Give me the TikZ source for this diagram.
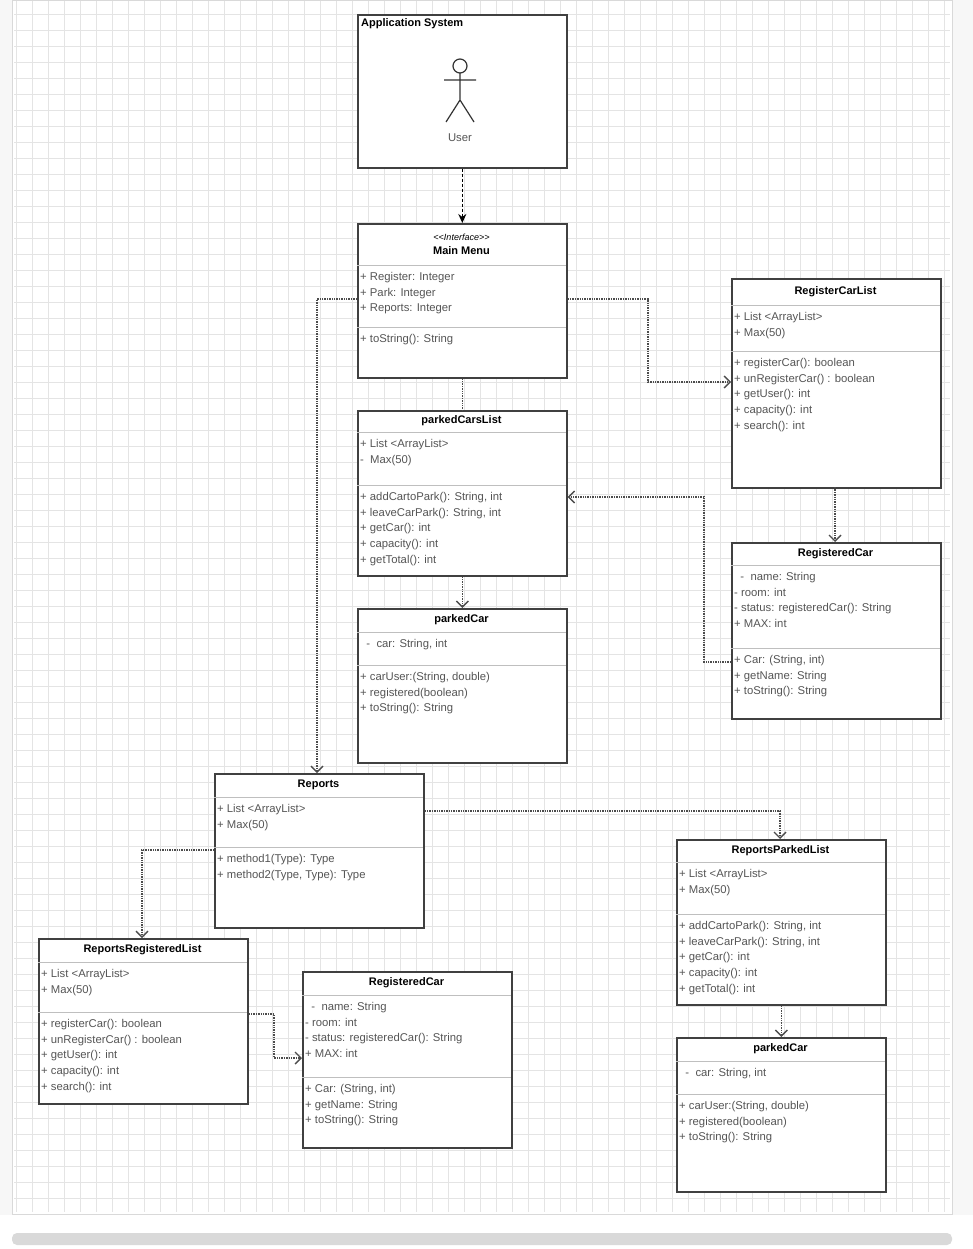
\documentclass[tikz,border=0pt]{standalone}
\usepackage{fontspec}
\setmainfont{Liberation Sans}
\definecolor{mem}{HTML}{555555}
\definecolor{gridc}{HTML}{E4E4E4}
\usetikzlibrary{arrows.meta}
\tikzset{
 cls/.style={draw=black!75,line width=1.6pt,fill=white,rectangle,anchor=north west,inner sep=0},
 mems/.style={anchor=north west,align=left,inner sep=0,text=mem,font=\fontsize{11.3}{15.7}\selectfont},
 ttl/.style={font=\bfseries\fontsize{11}{14}\selectfont,inner sep=0,align=center},
 dep/.style={densely dotted,line width=1.4pt,draw=black!70,-{Straight Barb[length=6pt,width=12pt]}},
 depn/.style={densely dotted,line width=1.4pt,draw=black!70},
}
% name x1 y1 x2 y2 div1 div2 title attrs
\newcommand\umlcls[9]{%
 \node[cls,minimum width={#4-#2},minimum height={#5-#3}] (#1) at (#2,#3) {};
 \draw[black!25,line width=1pt] (#2,#6) -- (#4,#6);
 \draw[black!25,line width=1pt] (#2,#7) -- (#4,#7);
 \node[ttl] (#1-t) at ({(#2+#4)/2},{(#3+#6)/2}) {#8};
 \node[mems] (#1-a) at (#2+3,#6+7) {#9};
}
\newcommand\umlm[4]{\node[mems] (#1) at (#2+3,#3+7) {#4};}
\begin{document}
\begin{tikzpicture}[x=1pt,y=-1pt]
\useasboundingbox (0,0) rectangle (973,1249);
\fill[white] (0,0) rectangle (973,1249);
\fill[black!3] (0,0) rectangle (12,1215);
\fill[black!3] (952,0) rectangle (973,1215);
\foreach \x in {16,32,...,944} \draw[gridc,line width=0.8pt] (\x,0) -- (\x,1212);
\foreach \y in {14,30,...,1212} \draw[gridc,line width=0.8pt] (14,\y) -- (950,\y);
\draw[black!15] (12,0) rectangle (952,1214);
\fill[black!15,rounded corners=5pt] (12,1233) rectangle (952,1245);
% Application system
\node[cls,minimum width=209,minimum height=153] (app) at (357,14) {};
\node[ttl,anchor=north west] (appt) at (361,18) {Application System};
\draw[black!80,line width=1.2pt] (460,66) circle (7);
\draw[black!80,line width=1.2pt] (460,73) -- (460,100) (444,80) -- (476,80) (460,100) -- (446,122) (460,100) -- (474,122);
\node[mems,anchor=center] (user) at (460,138) {User};
% classes
\umlcls{mm}{357}{223}{566}{377}{265}{327}{{\itshape\mdseries\fontsize{9}{10}\selectfont <{}<Interface>{}>}\\Main Menu}{+ Register: Integer\\+ Park: Integer\\+ Reports: Integer}
\umlm{mmm}{357}{327}{+ toString(): String}
\umlcls{rcl}{731}{278}{940}{487}{305}{351}{RegisterCarList}{+ List <ArrayList>\\+ Max(50)}
\umlm{rclm}{731}{351}{+ registerCar(): boolean\\+ unRegisterCar() : boolean\\+ getUser(): int\\+ capacity(): int\\+ search(): int}
\umlcls{pcl}{357}{410}{566}{575}{432}{485}{parkedCarsList}{+ List <ArrayList>\\- \ Max(50)}
\umlm{pclm}{357}{485}{+ addCartoPark(): String, int\\+ leaveCarPark(): String, int\\+ getCar(): int\\+ capacity(): int\\+ getTotal(): int}
\umlcls{rc}{731}{542}{940}{718}{565}{648}{RegisteredCar}{\ \ - \ name: String\\- room: int\\- status: registeredCar(): String\\+ MAX: int}
\umlm{rcm}{731}{648}{+ Car: (String, int)\\+ getName: String\\+ toString(): String}
\umlcls{pc}{357}{608}{566}{762}{632}{665}{parkedCar}{\ \ - \ car: String, int}
\umlm{pcm}{357}{665}{+ carUser:(String, double)\\+ registered(boolean)\\+ toString(): String}
\umlcls{rep}{214}{773}{423}{927}{797}{847}{Reports}{+ List <ArrayList>\\+ Max(50)}
\umlm{repm}{214}{847}{+ method1(Type): Type\\+ method2(Type, Type): Type}
\umlcls{rpl}{676}{839}{885}{1004}{862}{914}{ReportsParkedList}{+ List <ArrayList>\\+ Max(50)}
\umlm{rplm}{676}{914}{+ addCartoPark(): String, int\\+ leaveCarPark(): String, int\\+ getCar(): int\\+ capacity(): int\\+ getTotal(): int}
\umlcls{rrl}{38}{938}{247}{1103}{962}{1012}{ReportsRegisteredList}{+ List <ArrayList>\\+ Max(50)}
\umlm{rrlm}{38}{1012}{+ registerCar(): boolean\\+ unRegisterCar() : boolean\\+ getUser(): int\\+ capacity(): int\\+ search(): int}
\umlcls{rc2}{302}{971}{511}{1147}{995}{1077}{RegisteredCar}{\ \ - \ name: String\\- room: int\\- status: registeredCar(): String\\+ MAX: int}
\umlm{rc2m}{302}{1077}{+ Car: (String, int)\\+ getName: String\\+ toString(): String}
\umlcls{pc2}{676}{1037}{885}{1191}{1061}{1094}{parkedCar}{\ \ - \ car: String, int}
\umlm{pc2m}{676}{1094}{+ carUser:(String, double)\\+ registered(boolean)\\+ toString(): String}
% connectors
\draw[densely dashed,line width=1.6pt,-{Stealth[length=9pt,width=8pt]}] (app.south) -- (mm.north);
\draw[dep] (mm.east |- 0,299) -| (648,382) -- (rcl.west |- 0,382);
\draw[dep] (mm.west |- 0,299) -- (317,299) -- (rep.north -| 317,0);
\draw[depn] (mm.south) -- (pcl.north);
\draw[dep] (pcl.south) -- (pc.north);
\draw[dep] (835,487) -- (835,542);
\draw[dep] (rc.west |- 0,662) -- (704,662) -- (704,497) -- (pcl.east |- 0,497);
\draw[dep] (rep.east |- 0,811) -- (780,811) -- (780,839);
\draw[dep] (rep.west |- 0,850) -- (142,850) -- (142,938);
\draw[dep] (rrl.east |- 0,1014) -- (274,1014) -- (274,1058) -- (rc2.west |- 0,1058);
\draw[dep] (rpl.south) -- (pc2.north);
\end{tikzpicture}
\end{document}
